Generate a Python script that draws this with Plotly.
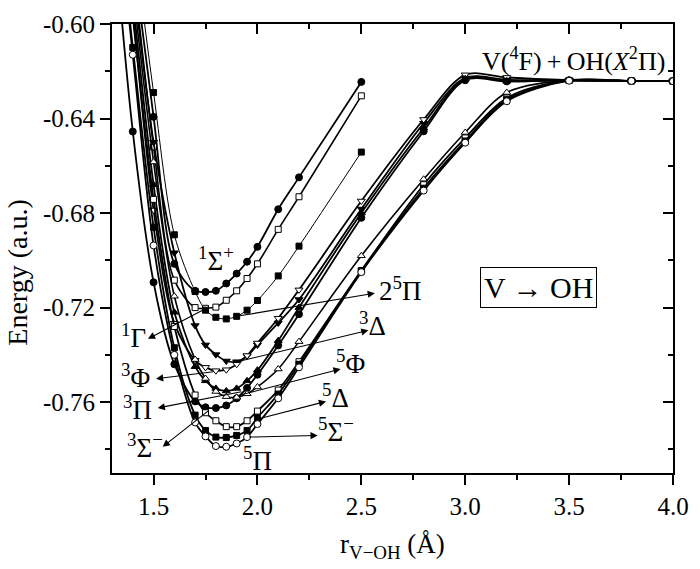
import plotly.graph_objects as go

# ---------------- data ----------------
R_SHORT = [1.3, 1.4, 1.5, 1.6, 1.7, 1.75, 1.8, 1.85, 1.9, 1.95, 2.0, 2.1, 2.2, 2.5]
R_LONG = R_SHORT + [2.8, 3.0, 3.2, 3.5, 3.8, 4.0]

E_1SIGMA_P = [-0.50, -0.57, -0.6393, -0.7015, -0.7129, -0.7134, -0.7129, -0.7098, -0.7056, -0.7006, -0.6943, -0.6784, -0.6649, -0.6245]
E_1GAMMA = [-0.50, -0.575, -0.652, -0.7084, -0.7200, -0.7203, -0.7198, -0.7169, -0.7129, -0.7077, -0.7015, -0.6869, -0.6731, -0.6304]
E_2_5PI = [-0.49, -0.56, -0.629, -0.6892, -0.7132, -0.7211, -0.7241, -0.7248, -0.7237, -0.7211, -0.7170, -0.7066, -0.6940, -0.6542]

E_3DELTA = [-0.51, -0.58, -0.650, -0.6968, -0.7276, -0.7358, -0.7399, -0.7426, -0.7429, -0.7405, -0.7358, -0.7265, -0.7166, -0.6783,
            -0.6420, -0.6228, -0.6236, -0.6238, -0.6241, -0.6242]
E_3PHI = [-0.51, -0.595, -0.6787, -0.7266, -0.7423, -0.7453, -0.7467, -0.7463, -0.7440, -0.7403, -0.7350, -0.7245, -0.7125, -0.6749,
          -0.6404, -0.6215, -0.6226, -0.6238, -0.6241, -0.6242]
E_3PI = [-0.51, -0.59, -0.668, -0.7220, -0.7450, -0.7510, -0.7542, -0.7553, -0.7542, -0.7510, -0.7465, -0.7340, -0.7200, -0.6800,
         -0.6440, -0.6232, -0.6242, -0.6238, -0.6241, -0.6242]
E_3SIGMA_M = [-0.55, -0.6455, -0.7093, -0.7440, -0.7597, -0.7622, -0.7625, -0.7614, -0.7584, -0.7540, -0.7484, -0.7360, -0.7228, -0.6820,
              -0.6454, -0.6238, -0.6243, -0.6238, -0.6241, -0.6242]
E_5PHI = [-0.51, -0.585, -0.6584, -0.7152, -0.7420, -0.7500, -0.7555, -0.7577, -0.7580, -0.7565, -0.7536, -0.7460, -0.7344, -0.6981,
          -0.6657, -0.6459, -0.6290, -0.6238, -0.6241, -0.6242]
E_5DELTA = [-0.52, -0.597, -0.6742, -0.7280, -0.7570, -0.7645, -0.7679, -0.7704, -0.7704, -0.7679, -0.7638, -0.7549, -0.7429, -0.7043,
            -0.6680, -0.6482, -0.6313, -0.6239, -0.6241, -0.6242]
E_5SIGMA_M = [-0.53, -0.6099, -0.6860, -0.7370, -0.7655, -0.7720, -0.7748, -0.7750, -0.7741, -0.7720, -0.7666, -0.7566, -0.7440, -0.7046,
              -0.6695, -0.6495, -0.6320, -0.6239, -0.6241, -0.6242]
E_5PI = [-0.53, -0.613, -0.6937, -0.7400, -0.7686, -0.7745, -0.7786, -0.7789, -0.7775, -0.7748, -0.7693, -0.7584, -0.7453, -0.7050,
         -0.6705, -0.6502, -0.6327, -0.6240, -0.6241, -0.6242]

X_TICKS = [1.5, 2.0, 2.5, 3.0, 3.5, 4.0]
X_TICK_TEXT = ["1.5", "2.0", "2.5", "3.0", "3.5", "4.0"]
X_MINOR = [1.75, 2.25, 2.75, 3.25, 3.75]
Y_TICKS = [-0.60, -0.64, -0.68, -0.72, -0.76]
Y_TICK_TEXT = ["-0.60", "-0.64", "-0.68", "-0.72", "-0.76"]
Y_MINOR = [-0.62, -0.66, -0.70, -0.74, -0.78]

# (x, y data, marker symbol, filled?, line width)
CURVES = [
    (R_SHORT, E_1SIGMA_P, "circle", True, 1.8),
    (R_SHORT, E_1GAMMA, "square", False, 1.6),
    (R_SHORT, E_2_5PI, "square", True, 1.0),
    (R_LONG, E_3DELTA, "triangle-down", True, 1.8),
    (R_LONG, E_3PHI, "triangle-down", False, 1.8),
    (R_LONG, E_3PI, "triangle-up", True, 1.8),
    (R_LONG, E_3SIGMA_M, "circle", True, 1.8),
    (R_LONG, E_5PHI, "triangle-up", False, 1.6),
    (R_LONG, E_5DELTA, "square", False, 1.8),
    (R_LONG, E_5SIGMA_M, "square", True, 1.8),
    (R_LONG, E_5PI, "circle", False, 1.8),
]

# labels: (text, x, y)
LABELS = [
    ("<sup>1</sup>Σ<sup>+</sup>", 1.80, -0.6995),
    ("<sup>1</sup>Γ", 1.405, -0.7322),
    ("2<sup>5</sup>Π", 2.684, -0.7122),
    ("<sup>3</sup>Δ", 2.556, -0.7270),
    ("<sup>3</sup>Φ", 1.415, -0.7490),
    ("<sup>3</sup>Π", 1.424, -0.7627),
    ("<sup>3</sup>Σ<sup>−</sup>", 1.460, -0.7786),
    ("<sup>5</sup>Φ", 2.448, -0.7430),
    ("<sup>5</sup>Δ", 2.377, -0.7574),
    ("<sup>5</sup>Σ<sup>−</sup>", 2.380, -0.7717),
    ("<sup>5</sup>Π", 2.000, -0.7840),
]

# arrows: (tail x, tail y, head x, head y)
ARROWS = [
    (1.75, -0.7205, 1.473, -0.7332),
    (1.90, -0.7237, 2.565, -0.7139),
    (1.90, -0.7430, 2.534, -0.7296),
    (1.795, -0.7471, 1.512, -0.7501),
    (1.93, -0.7555, 1.520, -0.7625),
    (1.772, -0.7631, 1.544, -0.7789),
    (1.905, -0.7573, 2.400, -0.7460),
    (2.00, -0.7672, 2.330, -0.7597),
    (1.953, -0.7748, 2.290, -0.7741),
]

X_RANGE = [1.3, 4.0]
Y_RANGE = [-0.79, -0.60]

FONT = "Liberation Serif"

fig = go.Figure()
for xs, ys, sym, filled, lw in CURVES:
    fig.add_trace(go.Scatter(
        x=xs, y=ys, mode="lines+markers",
        line=dict(color="black", width=lw, shape="spline", smoothing=0.9),
        marker=dict(symbol=sym, size=7 if sym != "square" else 6,
                    color="black" if filled else "white",
                    line=dict(color="black", width=1)),
        showlegend=False, hoverinfo="skip",
    ))

# dummy trace for mirrored axes
fig.add_trace(go.Scatter(x=[], y=[], xaxis="x2", yaxis="y2", showlegend=False))

for xt, yt, xh, yh in ARROWS:
    fig.add_annotation(x=xh, y=yh, ax=xt, ay=yt, xref="x", yref="y", axref="x", ayref="y",
                       text="", showarrow=True, arrowhead=2, arrowsize=1.3, arrowwidth=1.1,
                       arrowcolor="black")

for txt, x, y in LABELS:
    fig.add_annotation(x=x, y=y, xref="x", yref="y", text=txt, showarrow=False,
                       font=dict(family=FONT, size=27, color="black"))

fig.add_annotation(x=3.52, y=-0.6150, xref="x", yref="y",
                   text="V(<sup>4</sup>F)\u2009+\u2009OH(<i>X</i><sup>2</sup>Π)", showarrow=False,
                   font=dict(family=FONT, size=26, color="black"))
fig.add_annotation(x=3.351, y=-0.7115, xref="x", yref="y", text="V → OH", showarrow=False,
                   font=dict(family=FONT, size=30, color="black"),
                   bordercolor="black", borderwidth=1, borderpad=3, bgcolor="white")

fig.add_annotation(x=-0.168, y=0.4455, xref="paper", yref="paper", text="Energy (a.u.)",
                   xanchor="center", yanchor="middle",
                   textangle=-90, showarrow=False, font=dict(family=FONT, size=28, color="black"))
fig.add_annotation(x=0.5, y=-0.163, xref="paper", yref="paper", text="r<sub>V−OH</sub> (Å)",
                   xanchor="center", yanchor="middle",
                   showarrow=False, font=dict(family=FONT, size=27, color="black"))

axis_common = dict(showgrid=False, zeroline=False, showline=True, linecolor="black", linewidth=2,
                   tickcolor="black", tickwidth=2, ticklen=10, ticklabeloverflow="allow",
                   tickfont=dict(family=FONT, size=25, color="black"))

fig.update_layout(
    width=700, height=569,
    margin=dict(l=112, r=16, t=11, b=96),
    plot_bgcolor="white", paper_bgcolor="white",
    xaxis=dict(range=X_RANGE, tickmode="array", tickvals=X_TICKS, ticktext=X_TICK_TEXT,
               ticks="outside", mirror=True,
               minor=dict(tickmode="array", tickvals=X_MINOR, ticks="outside", ticklen=5,
                          tickwidth=2, tickcolor="black"),
               **axis_common),
    yaxis=dict(range=Y_RANGE, tickmode="array", tickvals=Y_TICKS, ticktext=Y_TICK_TEXT,
               ticks="outside", mirror=True,
               minor=dict(tickmode="array", tickvals=Y_MINOR, ticks="outside", ticklen=5,
                          tickwidth=2, tickcolor="black"),
               **axis_common),
    xaxis2=dict(range=X_RANGE, overlaying="x", side="top", tickmode="array", tickvals=X_TICKS,
                showticklabels=False, ticks="inside", showgrid=False, zeroline=False,
                showline=False, tickcolor="black", tickwidth=2, ticklen=10,
                minor=dict(tickmode="array", tickvals=X_MINOR, ticks="inside", ticklen=5,
                           tickwidth=2, tickcolor="black")),
    yaxis2=dict(range=Y_RANGE, overlaying="y", side="right", tickmode="array", tickvals=Y_TICKS,
                showticklabels=False, ticks="inside", showgrid=False, zeroline=False,
                showline=False, tickcolor="black", tickwidth=2, ticklen=10,
                minor=dict(tickmode="array", tickvals=Y_MINOR, ticks="inside", ticklen=5,
                           tickwidth=2, tickcolor="black")),
)

fig.write_html("out.html")
